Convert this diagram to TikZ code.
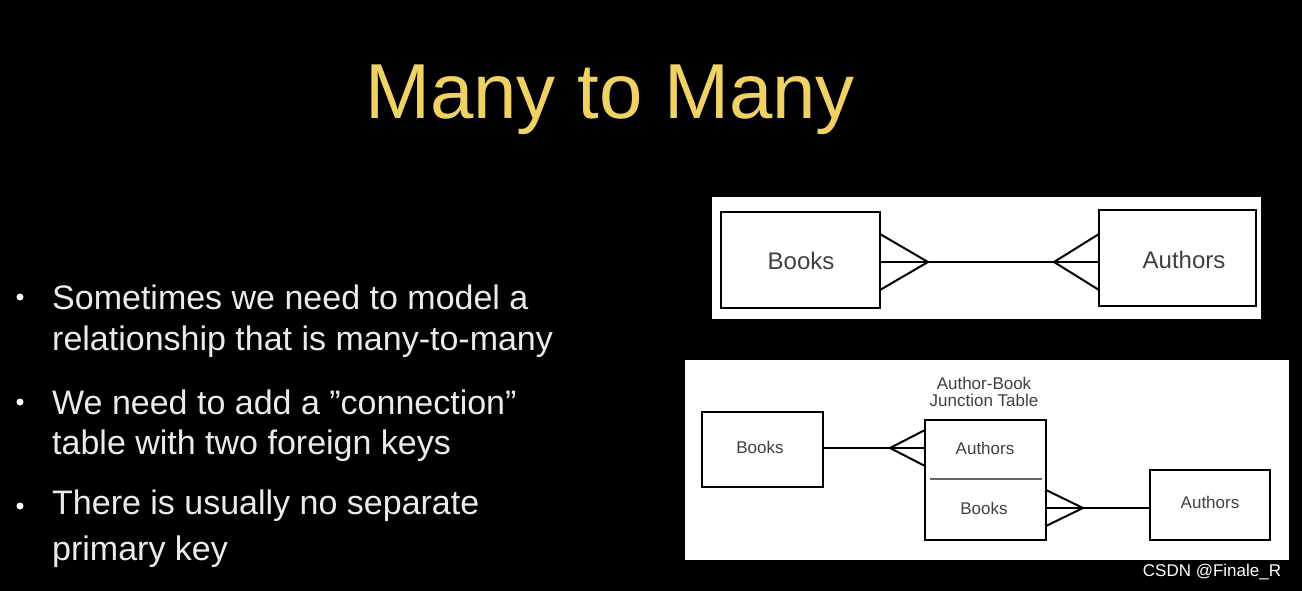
\documentclass[tikz,border=0pt]{standalone}
\usepackage{fontspec}
\setmainfont{Liberation Sans}
\begin{document}
\begin{tikzpicture}[x=1pt,y=-1pt,
  bul/.style={anchor=west,text=white!92!black,font=\fontsize{34}{34}\selectfont,inner sep=0},
  ent/.style={draw=black,line width=2pt,fill=white,inner sep=0},
  lk/.style={line width=2pt},
  dlab/.style={text=black!75,font=\fontsize{24}{24}\selectfont},
  slab/.style={text=black!75,font=\fontsize{17}{17}\selectfont}]
\fill[black] (0,0) rectangle (1302,591);
\useasboundingbox (0,0) rectangle (1302,591);
\node[text={rgb,255:red,240;green,210;blue,100},font=\fontsize{78}{78}\selectfont] (title) at (610,100) {Many to Many};
\foreach \y/\t/\b in {297/Sometimes we need to model a/1,342/relationship that is many-to-many/0,402/We need to add a "connection"/1,446/table with two foreign keys/0,506/There is usually no separate/1,552/primary key/0}{
  \node[bul] at (52,\y) {\t};
  \ifnum\b=1 \fill[white] (20,\y) circle (3.5);\fi
}
% top panel
\fill[white] (712,197) rectangle (1261,319);
\node[ent,minimum width=159,minimum height=96] (b1) at (800.5,260) {};
\node[dlab] at (801,261) {Books};
\node[ent,minimum width=157,minimum height=96] (a1) at (1177.5,258) {};
\node[dlab] at (1184,260) {Authors};
\coordinate (t1) at (928,262);
\coordinate (t2) at (1054,262);
\draw[lk] (t1) -- (t2);
\foreach \d in {-28,0,28}{\draw[lk] (t1) -- (880,262+\d); \draw[lk] (t2) -- (1099,262+\d);}
% bottom panel
\fill[white] (685,360) rectangle (1289,560);
\node[ent,line width=1.5pt,minimum width=121,minimum height=75] (b2) at (762.5,449.5) {};
\node[slab] at (760,447) {Books};
\node[ent,line width=1.5pt,minimum width=121,minimum height=120] (j) at (985.5,480) {};
\draw[black!60,line width=1.5pt] (930,479) -- (1042,479);
\node[slab] at (985,448) {Authors};
\node[slab] at (984,508) {Books};
\node[slab,align=center] (jt) at (984,392) {Author-Book\\Junction Table};
\node[ent,line width=1.5pt,minimum width=120,minimum height=70] (a2) at (1210,505) {};
\node[slab] at (1210,502) {Authors};
\coordinate (t3) at (890,448);
\coordinate (t4) at (1083,508);
\draw[lk] (b2.east |- t3) -- (t3);
\draw[lk] (t4) -- (a2.west |- t4);
\foreach \d in {-18,0,18}{\draw[lk] (t3) -- (925,448+\d); \draw[lk] (t4) -- (1046,508+\d);}
\node[text=white,font=\fontsize{17}{17}\selectfont] (wm) at (1212,572) {CSDN @Finale\_R};
\end{tikzpicture}
\end{document}
